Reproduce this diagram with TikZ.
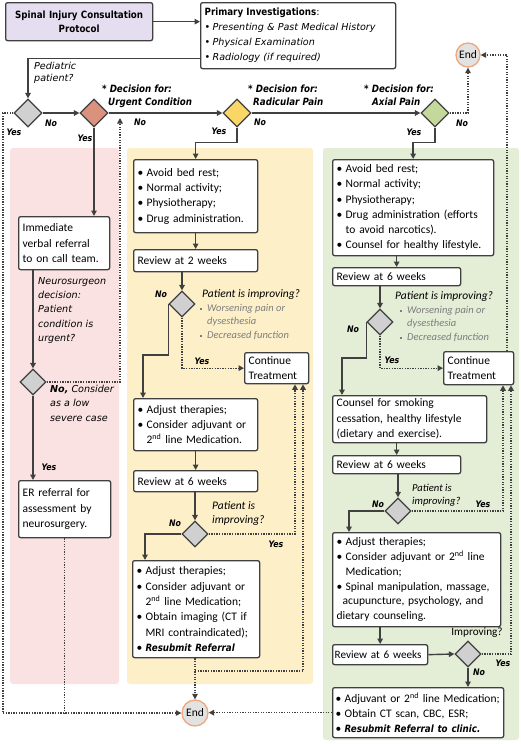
\documentclass[tikz,border=0pt]{standalone}
\usepackage{fontspec}
\setmainfont{Carlito}
\newfontfamily\vf{DejaVu Sans}
\newfontfamily\vfc[FakeStretch=0.87]{DejaVu Sans}
\usetikzlibrary{arrows.meta,shapes.geometric}
\definecolor{lc}{RGB}{64,64,64}
\definecolor{lav}{RGB}{229,222,240}
\definecolor{bgred}{RGB}{250,226,226}
\definecolor{bgyel}{RGB}{253,240,201}
\definecolor{bggrn}{RGB}{228,237,214}
\definecolor{dgray}{RGB}{208,208,208}
\definecolor{dsal}{RGB}{218,146,126}
\definecolor{dyel}{RGB}{250,214,102}
\definecolor{dgrn}{RGB}{197,216,156}
\definecolor{endfill}{RGB}{226,226,226}
\definecolor{endline}{RGB}{238,168,128}
\definecolor{hint}{RGB}{125,125,125}
\newcommand\bul{\makebox[9pt][l]{\textbullet}}
\newcommand\ind{\hspace*{9pt}}
\newcommand\vbul{\makebox[8pt][l]{\textbullet}}
\newcommand\sq{\makebox[7pt][l]{\raisebox{1.2pt}{\rule{2.2pt}{2.2pt}}}}
\begin{document}
\begin{tikzpicture}[x=1pt,y=-1pt,
  box/.style={draw=lc,line width=1.3pt,fill=white,rounded corners=2pt,inner xsep=4pt,inner ysep=1pt,anchor=north west,align=left,font=\fontsize{11.5}{15.3}\selectfont},
  dec/.style={diamond,draw=lc,line width=1.2pt,minimum width=26pt,minimum height=26pt,inner sep=0pt},
  endc/.style={circle,draw=endline,fill=endfill,line width=1.3pt,inner sep=0pt,font=\fontsize{11.5}{14}\selectfont},
  arr/.style={draw=lc,line width=1.4pt,-{Triangle[length=5.5pt,width=5.5pt]}},
  dot/.style={draw=lc,line width=1.3pt,dash pattern=on 1.3pt off 1.3pt},
  darr/.style={dot,-{Triangle[length=5.5pt,width=5.5pt]}},
  yn/.style={font=\vfc\bfseries\itshape\fontsize{9}{11}\selectfont,inner sep=0pt},
  hd/.style={font=\vfc\bfseries\itshape\fontsize{10}{12.5}\selectfont,inner sep=0pt,align=left,anchor=north west},
  it/.style={font=\vf\itshape\fontsize{9.6}{14.3}\selectfont,inner sep=0pt,align=left,anchor=north west},
  q/.style={font=\itshape\fontsize{11.5}{14}\selectfont,inner sep=0pt,align=left,anchor=north west},
  hintt/.style={font=\itshape\fontsize{10.5}{13.5}\selectfont,text=hint,inner sep=0pt,align=left,anchor=north west},
]
\fill[white] (0,0) rectangle (520,744);
\useasboundingbox (0,0) rectangle (520,744);
% column backgrounds
\fill[bgred, rounded corners=3pt] (10,148) rectangle (119,684);
\fill[bgyel, rounded corners=3pt] (127,148) rectangle (313,684);
\fill[bggrn, rounded corners=3pt] (323,148) rectangle (519,740);

% top
\node[box,fill=lav,align=center,minimum width=147pt,minimum height=38pt,text width=139pt,font=\vfc\bfseries\fontsize{10}{13.5}\selectfont] (t) at (5,2) {Spinal Injury Consultation\\Protocol};
\node[box,minimum width=195pt,minimum height=66pt,text width=187pt,font=\vf\fontsize{9.6}{15}\selectfont] (p) at (200,2) {{\vfc\bfseries\fontsize{10}{15}\selectfont Primary Investigations}:\\\vbul\textit{Presenting \& Past Medical History}\\\vbul\textit{Physical Examination}\\\vbul\textit{Radiology (if required)}};

\node[dec,fill=dgray,minimum width=28pt,minimum height=28pt] (d1) at (28,113) {};
\node[dec,fill=dsal,minimum width=28pt,minimum height=28pt] (d2) at (94,113) {};
\node[dec,fill=dyel,minimum width=28pt,minimum height=28pt] (d3) at (237,113) {};
\node[dec,fill=dgrn,minimum width=28pt,minimum height=28pt] (d4) at (435,113) {};
\node[endc,minimum size=24pt] (e1) at (468,55) {End};
\node[endc,minimum size=26pt] (e2) at (195,713) {End};

% red column
\node[box,minimum width=91pt,minimum height=53pt,text width=83pt] (imm) at (18,216) {Immediate\\verbal referral\\to on call team.};
\node[dec,fill=dgray] (d5) at (33,382) {};
\node[box,minimum width=92pt,minimum height=57pt,text width=84pt] (er) at (18,480) {ER referral for\\assessment by\\neurosurgery.};

% yellow column
\node[box,minimum width=124pt,minimum height=73pt,text width=116pt] (yb1) at (133,159) {\bul Avoid bed rest;\\\bul Normal activity;\\\bul Physiotherapy;\\\bul Drug administration.};
\node[box,minimum width=124pt,minimum height=22pt,text width=116pt] (yr1) at (133,249) {Review at 2 weeks};
\node[dec,fill=dgray] (yd1) at (182,304) {};
\node[box,minimum width=64pt,minimum height=31pt,text width=56pt] (yct) at (244,352) {Continue\\Treatment};
\node[box,minimum width=124pt,minimum height=52pt,text width=116pt] (yb2) at (133,398) {\bul Adjust therapies;\\\bul Consider adjuvant or\\\ind 2\textsuperscript{nd} line Medication.};
\node[box,minimum width=124pt,minimum height=21pt,text width=116pt] (yr2) at (133,470) {Review at 6 weeks};
\node[dec,fill=dgray] (yd2) at (195,534) {};
\node[box,minimum width=127pt,minimum height=97pt,text width=119pt] (yb3) at (132,560) {\bul Adjust therapies;\\\bul Consider adjuvant or\\\ind 2\textsuperscript{nd} line Medication;\\\bul Obtain imaging (CT if\\\ind MRI contraindicated);\\\bul {\vfc\bfseries\itshape\fontsize{10}{15.3}\selectfont Resubmit Referral}};

% green column
\node[box,minimum width=161pt,minimum height=96pt,text width=153pt] (gb1) at (332,159) {\bul Avoid bed rest;\\\bul Normal activity;\\\bul Physiotherapy;\\\bul Drug administration (efforts\\\ind to avoid narcotics).\\\bul Counsel for healthy lifestyle.};
\node[box,minimum width=128pt,minimum height=18pt,text width=120pt] (gr1) at (332,267) {Review at 6 weeks};
\node[dec,fill=dgray] (gd1) at (380,322) {};
\node[box,minimum width=70pt,minimum height=33pt,text width=62pt] (gct) at (443,351) {Continue\\Treatment};
\node[box,minimum width=154pt,minimum height=47pt,text width=146pt] (gb2) at (332,395) {Counsel for smoking\\cessation, healthy lifestyle\\(dietary and exercise).};
\node[box,minimum width=128pt,minimum height=18pt,text width=120pt] (gr2) at (332,455) {Review at 6 weeks};
\node[dec,fill=dgray] (gd2) at (398,511) {};
\node[box,minimum width=168pt,minimum height=94pt,text width=160pt,font=\fontsize{11.5}{14.8}\selectfont] (gb3) at (332,532) {\bul Adjust therapies;\\\bul Consider adjuvant or 2\textsuperscript{nd} line\\\ind Medication;\\\bul Spinal manipulation, massage,\\\hspace*{6pt}acupuncture, psychology, and\\dietary counseling.};
\node[box,minimum width=95pt,minimum height=20pt,text width=91pt,inner xsep=2pt,font=\fontsize{11.2}{14}\selectfont] (gr3) at (332,644) {Review at 6 weeks};
\node[dec,fill=dgray] (gd3) at (468,654) {};
\node[box,minimum width=171pt,minimum height=50pt,text width=165pt,inner xsep=3pt,font=\fontsize{11.5}{15}\selectfont] (gb4) at (332,687) {\bul Adjuvant or 2\textsuperscript{nd} line Medication;\\\bul Obtain CT scan, CBC, ESR;\\\bul {\vfc\bfseries\itshape\fontsize{10}{15}\selectfont Resubmit Referral to clinic.}};

% labels
\node[it,font=\vf\itshape\fontsize{9.6}{12}\selectfont] (lped) at (34,62) {Pediatric\\patient?};
\node[yn] (l1) at (51,123) {No};
\node[yn] (l2) at (14,132) {Yes};
\node[yn] (l3) at (85,138) {Yes};
\node[hd] (h1) at (102,85) {* Decision for:\\\hspace*{6pt}Urgent Condition};
\node[yn] (l4) at (140,122) {No};
\node[hd] (h2) at (248,85) {* Decision for:\\\hspace*{5pt}Radicular Pain};
\node[yn] (l5) at (219,131) {Yes};
\node[yn] (l6) at (260,122) {No};
\node[hd] (h3) at (364,85) {* Decision for:\\\hspace*{8pt}Axial Pain};
\node[yn] (l7) at (462,123) {No};
\node[yn] (l8) at (414,132) {Yes};
\node[it] (lneu) at (38,277) {Neurosurgeon\\decision:\\Patient\\condition is\\urgent?};
\node[it] (lno) at (50,385) {{\bfseries No,} Consider\\as a low\\severe case};
\node[yn] (l9) at (49,467) {Yes};
\node[yn] (l10) at (161,294) {No};
\node[q] (q1) at (202,289) {Patient is improving?};
\node[hintt] (hy) at (200,304) {\sq Worsening pain or\\\hspace*{7pt}dysesthesia\\\sq Decreased function};
\node[yn] (l11) at (202,361) {Yes};
\node[yn] (l12) at (175,523) {No};
\node[q] (q2) at (212,501) {Patient is\\improving?};
\node[yn] (l13) at (276,544) {Yes};
\node[yn] (l14) at (353,329) {No};
\node[q] (q3) at (395,291) {Patient is improving?};
\node[hintt] (hg) at (400,306) {\sq Worsening pain or\\\hspace*{7pt}dysesthesia\\\sq Decreased function};
\node[yn] (l15) at (392,360) {Yes};
\node[yn] (l16) at (378,504) {No};
\node[q,font=\itshape\fontsize{10.6}{12.5}\selectfont] (q4) at (412,484) {Patient is\\improving?};
\node[yn] (l17) at (483,504) {Yes};
\node[font=\fontsize{11.2}{13}\selectfont,inner sep=0pt] (l18) at (477,633) {Improving?};
\node[yn] (l19) at (503,663) {Yes};
\node[yn] (l20) at (479,672) {No};

% connectors
\draw[arr] (t.east) -- (t.east -| p.west);
\draw[arr] ([yshift=11pt]p.south west) -| (d1.north);
\draw[arr] (d1.east) -- (d2.west);
\draw[arr] (d2.east) -- (d3.west);
\draw[arr] (d3.east) -- (d4.west);
\draw[darr] (d4.east) -| (e1.south);
\coordinate (lb) at (3,713);
\draw[dot] (d1.west) -| (lb);
\draw[darr] (lb) -- (e2.west);
\draw[arr] (d2.south) -- (d2.south |- imm.north);
\draw[arr] ([xshift=15pt]imm.south west) -- (d5.north);
\coordinate (up1) at (120,118);
\draw[darr] (d5.east) -| (up1);
\draw[arr] (d5.south) -- (d5.south |- er.north);
\draw[dot] (er.south) -- (er.south |- lb);
\draw[arr] (d3.south) -- ++(0,15) -| (yb1.north);
\draw[arr] (yb1.south) -- (yr1.north);
\draw[arr] (yr1.south -| yd1.north) -- (yd1.north);
\draw[arr] (yd1.west) -- ++(0,51) -| ([xshift=10pt]yb2.north west);
\draw[darr] (yd1.south) |- (yct.west);
\draw[arr] (yb2.south) -- (yr2.north);
\draw[arr] (yr2.south -| yd2.north) -- (yd2.north);
\draw[arr] (yd2.west) -| ([xshift=13pt]yb3.north west);
\draw[darr] (yd2.east) -| ([xshift=51pt]yct.south west);
\draw[darr] (yb3.south -| e2.north) -- (e2.north);
\coordinate (jn) at (195,671);
\draw[darr] (jn) -| ([xshift=59pt]yct.south west);
\draw[arr] (d4.south) -- ++(0,15) -| (gb1.north);
\draw[arr] (gb1.south -| gr1.north) -- (gr1.north);
\draw[arr] (gr1.south -| gd1.north) -- (gd1.north);
\draw[arr] (gd1.west) -- ++(0,36) -| ([xshift=10pt]gb2.north west);
\draw[darr] (gd1.south) |- (gct.west);
\draw[arr] (gb2.south -| gr2.north) -- (gr2.north);
\draw[arr] (gr2.south -| gd2.north) -- (gd2.north);
\draw[arr] (gd2.west) -| ([xshift=17pt]gb3.north west);
\draw[darr] (gd2.east) -| ([xshift=60pt]gct.south west);
\draw[arr] (gb3.south -| gr3.north) -- (gr3.north);
\draw[arr] (gr3.east) -- (gd3.west);
\draw[darr] (gd3.east) -| ([xshift=68pt]gct.south west);
\draw[arr] (gd3.south) -- (gd3.south |- gb4.north);
\draw[darr] (gb4.west) -- (gb4.west -| e2.east);
\draw[darr] ([xshift=64pt]gct.north west) |- (e1.east);
\end{tikzpicture}
\end{document}
